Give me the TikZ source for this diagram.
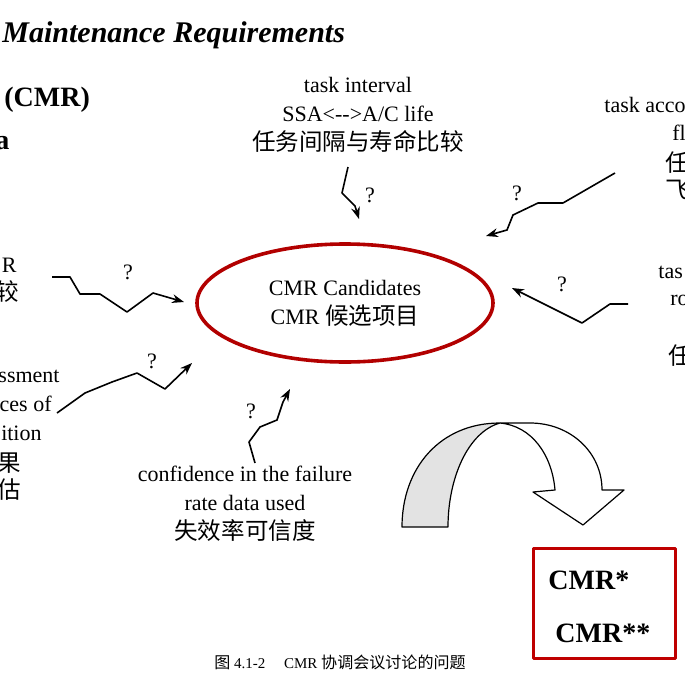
\documentclass[tikz,border=0pt]{standalone}
\usepackage{fontspec}
\setmainfont{Liberation Serif}
\newfontfamily\cjk[Scale=1.07]{Noto Sans CJK SC}
\usetikzlibrary{shapes,arrows.meta}

\begin{document}
\begin{tikzpicture}[x=0.5pt,y=-0.5pt,>={Stealth[length=6pt,width=4.4pt]},line join=round]
\tikzstyle{txt}=[inner sep=0pt,font=\fontsize{11}{14.5}\selectfont,align=center]
\tikzstyle{bigbf}=[inner sep=0pt,font=\fontsize{14}{16}\selectfont\bfseries]
\tikzstyle{wig}=[->,line width=0.8pt]
\tikzstyle{ask}=[inner sep=0pt,font=\fontsize{11}{13}\selectfont]
\useasboundingbox (0,0) rectangle (685,685);
\clip (0,0) rectangle (685,685);
% heading (cut off on the left)
\node[anchor=west,inner sep=0pt,font=\fontsize{15}{18}\selectfont\bfseries\itshape] (title) at (2,35) {Maintenance Requirements};
\node[bigbf,anchor=west] (cmrhead) at (4,100) {(CMR)};
\node[bigbf,anchor=west] (ahead) at (-5,143) {a};
% centre
\node[ellipse,draw=red!70!black,line width=1.8pt,minimum width=148pt,minimum height=59pt,txt] (cand) at (345,303)
  {CMR Candidates\\CMR {\cjk 候选项目}};
% question labels
\node[txt] (interval) at (358,115) {task interval\\SSA<{-}{-}>A/C life\\{\cjk 任务间隔与寿命比较}};
\node[txt] (conf) at (245,504) {confidence in the failure\\rate data used\\{\cjk 失效率可信度}};
\node[txt,anchor=west] (acc1) at (604,105) {task acco};
\node[txt,anchor=west] (acc2) at (672,133) {fl};
\node[txt,anchor=west] (acc3) at (665,163) {\cjk 任};
\node[txt,anchor=west] (acc4) at (665,190) {\cjk 飞};
\node[txt,anchor=west] (ro1) at (658,272) {tas};
\node[txt,anchor=west] (ro2) at (670,300) {ro};
\node[txt,anchor=west] (ro3) at (668,356) {\cjk 任};
\node[txt,anchor=east] (cmp1) at (17,265) {R};
\node[txt,anchor=west] (cmp2) at (-5,292) {\cjk 较};
\node[txt,anchor=east] (ass1) at (60,376) {ssment};
\node[txt,anchor=east] (ass2) at (52,404) {ces of};
\node[txt,anchor=east] (ass3) at (42,433) {ition};
\node[txt,anchor=west] (ass4) at (-3,463) {\cjk 果};
\node[txt,anchor=west] (ass5) at (-3,490) {\cjk 估};
% wiggly arrows
\coordinate (aS) at (348,167); \coordinate (aT) at (359,219);
\coordinate (bS) at (615,173); \coordinate (bT) at (486,236);
\coordinate (cS) at (628,304); \coordinate (cT) at (512,288);
\coordinate (dS) at (52,277);  \coordinate (dT) at (184,302);
\coordinate (eS) at (57,413);  \coordinate (eT) at (192,363);
\coordinate (fS) at (255,463); \coordinate (fT) at (290,389);
\draw[wig] (aS) -- (342,193) -- (355,206) -- (aT);
\draw[wig] (bS) -- (563,203) -- (538,203) -- (513,215) -- (507,230) -- (bT);
\draw[wig] (cS) -- (610,304) -- (582,323) -- (cT);
\draw[wig] (dS) -- (70,277) -- (80,294) -- (100,294) -- (127,312) -- (153,293) -- (dT);
\draw[wig] (eS) -- (85,393) -- (112,382) -- (137,373) -- (165,389) -- (eT);
\draw[wig] (fS) -- (249,442) -- (260,427) -- (277,420) -- (283,402) -- (fT);
\node[ask] (qa) at (370,195) {?};
\node[ask] (qb) at (517,193) {?};
\node[ask] (qc) at (562,284) {?};
\node[ask] (qd) at (128,272) {?};
\node[ask] (qe) at (152,361) {?};
\node[ask] (qf) at (251,411) {?};
% turning block arrow
\draw[line width=0.6pt,fill=gray!22] (402,527) .. controls (402,468) and (440,423) .. (500,423)
  .. controls (468,432) and (448,478) .. (448,527) -- cycle;
\draw[line width=0.6pt,fill=white] (500,423) -- (530,423) .. controls (570,423) and (602,452) .. (602,490)
  -- (624,490) -- (583,525) -- (533,492) -- (555,490) .. controls (552,455) and (532,426) .. (500,423);
% result box
\node[draw=red!75!black,line width=1.5pt,minimum width=71pt,minimum height=55pt] (result) at (604,603) {};
\node[bigbf,anchor=west] (cmrs) at (548,580) {CMR*};
\node[bigbf,anchor=west] (cmrss) at (555,633) {CMR**};
% caption
\node[inner sep=0pt,font=\fontsize{7.5}{9}\selectfont] (caption) at (340,662) {{\cjk 图} 4.1-2\quad\ CMR {\cjk 协调会议讨论的问题}};
\end{tikzpicture}
\end{document}
